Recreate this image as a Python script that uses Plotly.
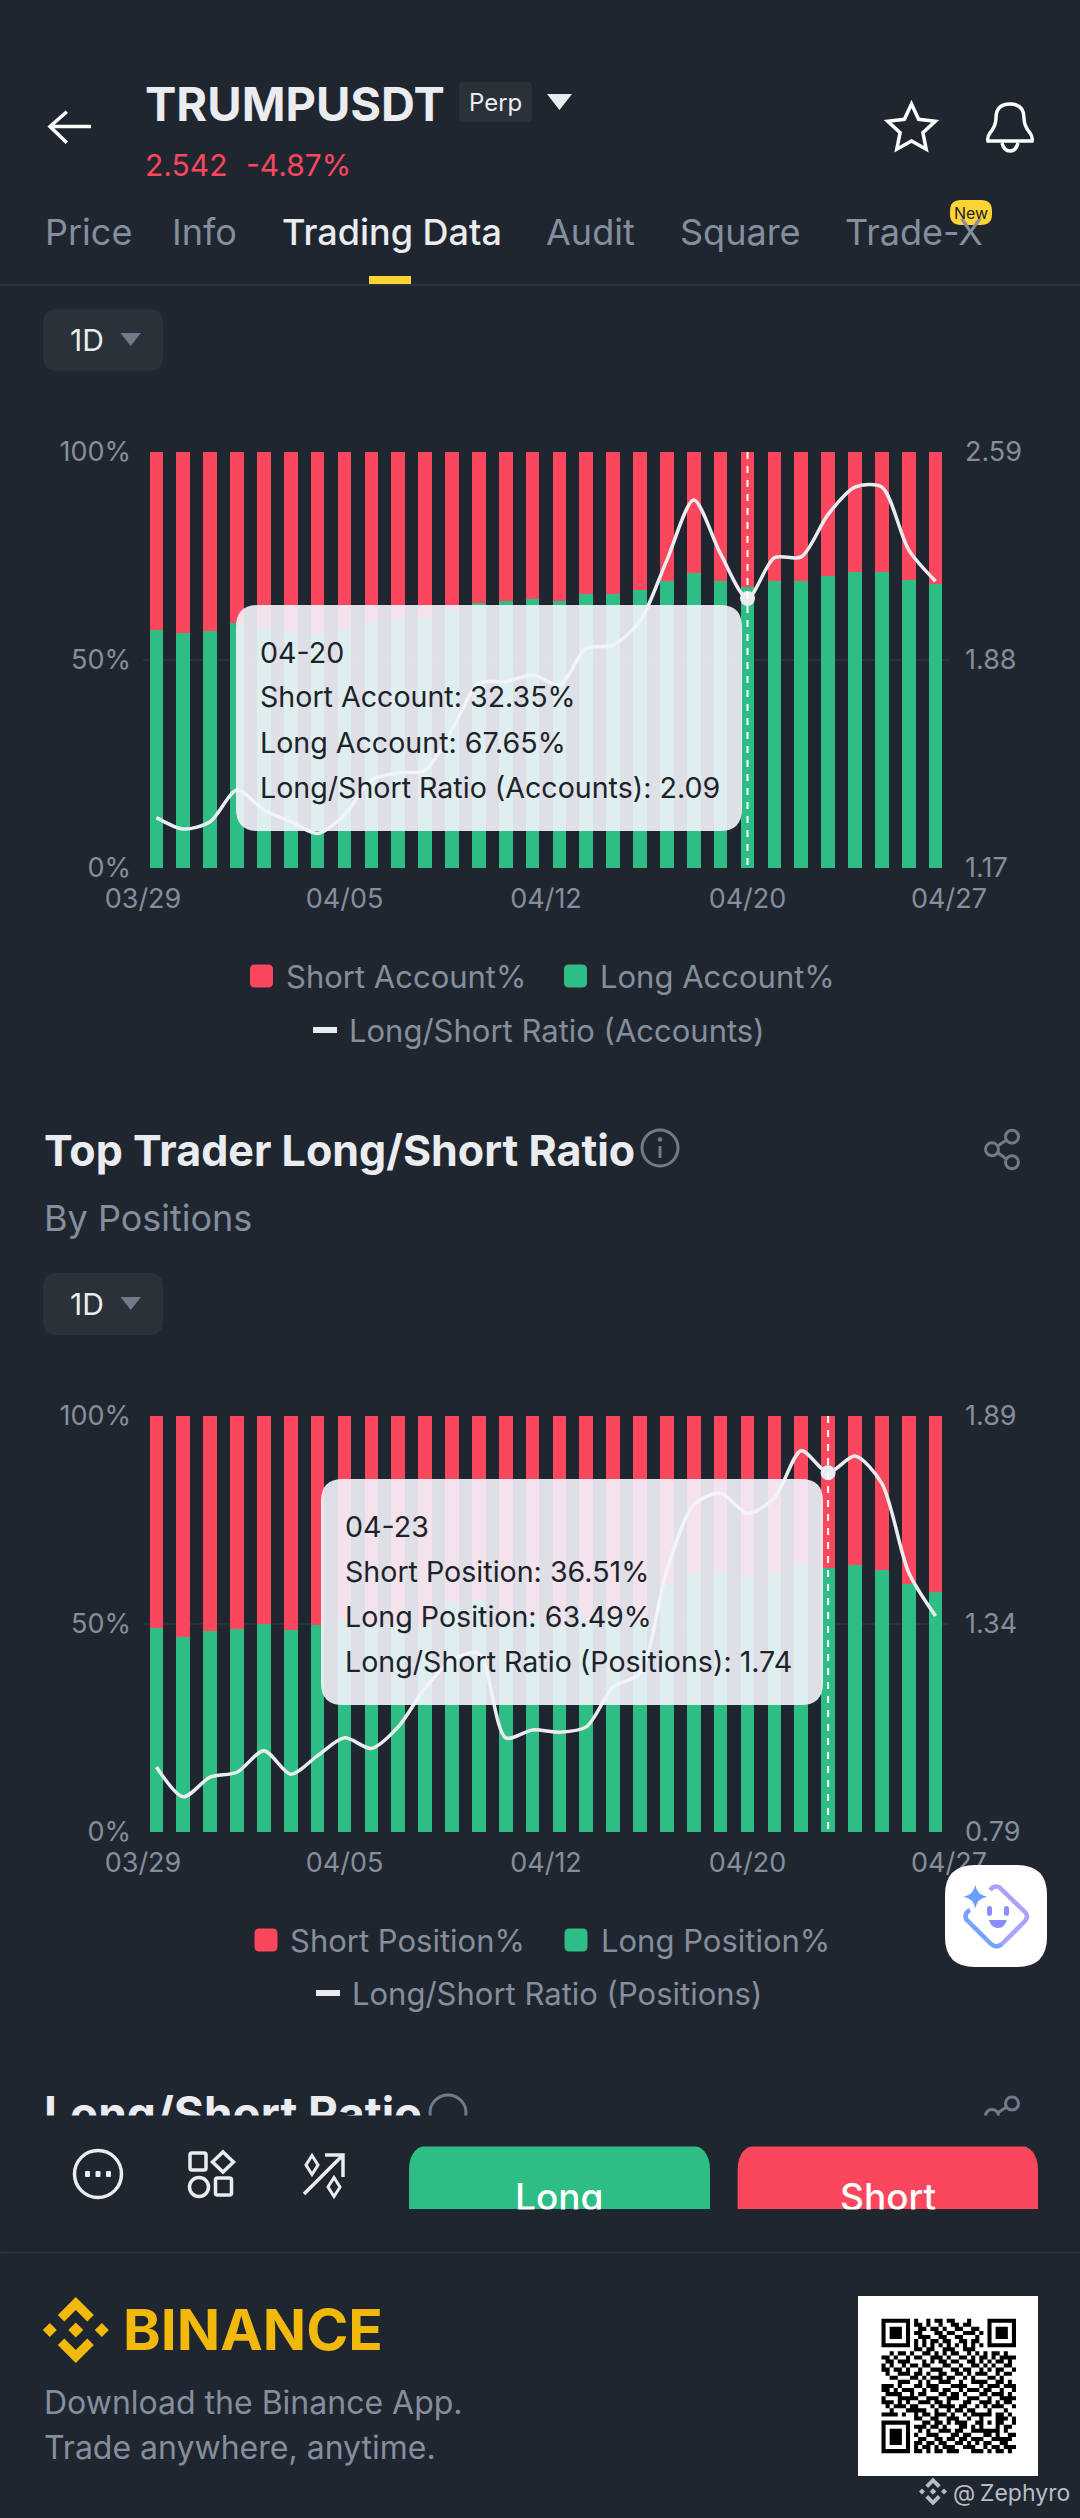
# plot.py - TRUMPUSDT trading data screen, two long/short charts
import math
import re
import plotly.graph_objects as go

W, H = 1080, 2518
BG = "#202630"
RED = "#FB475E"
GREEN = "#2EBD85"
WHITE = "#EAECEF"
GREY = "#848E9C"
DARKGREY = "#707A8A"
PANEL = "#2B3139"
FONT = "Inter"

day_index = list(range(30))
tick_pos = [-0.5, 7, 14.5, 22, 29.5]
tick_labels = ["03/29", "04/05", "04/12", "04/20", "04/27"]
pct_ticks = [0, 50, 100]
pct_labels = ["0%", "50%", "100%"]

# Global accounts chart
acc_long = [57.3, 56.5, 57.0, 59.0, 57.8, 57.0, 56.2, 57.2, 59.1, 59.6,
            60.0, 62.0, 63.6, 64.3, 64.6, 64.2, 65.8, 65.9, 66.8, 68.9,
            70.8, 69.1, 67.65, 69.0, 69.0, 70.3, 71.2, 71.2, 69.3, 68.3]
acc_short = [42.7, 43.5, 43.0, 41.0, 42.2, 43.0, 43.8, 42.8, 40.9, 40.4,
             40.0, 38.0, 36.4, 35.7, 35.4, 35.8, 34.2, 34.1, 33.2, 31.1,
             29.2, 30.9, 32.35, 31.0, 31.0, 29.7, 28.8, 28.8, 30.7, 31.7]
acc_ratio = [1.342, 1.303, 1.328, 1.436, 1.368, 1.328, 1.288, 1.351, 1.470, 1.494,
             1.504, 1.641, 1.801, 1.806, 1.829, 1.795, 1.920, 1.931, 2.013, 2.221,
             2.426, 2.242, 2.09, 2.229, 2.232, 2.377, 2.470, 2.470, 2.256, 2.149]
acc_ratio_ticks = [1.17, 1.88, 2.59]
acc_ratio_labels = ["1.17", "1.88", "2.59"]
acc_hover = 22

# Top trader positions chart
pos_long = [49.1, 46.9, 48.4, 48.7, 50.1, 48.6, 49.8, 51.0, 49.8, 49.8,
            50.0, 55.4, 55.8, 51.4, 51.4, 49.4, 51.8, 51.8, 50.2, 59.6,
            62.3, 62.7, 61.8, 62.5, 64.2, 63.49, 64.1, 63.1, 59.7, 57.7]
pos_short = [50.9, 53.1, 51.6, 51.3, 49.9, 51.4, 50.2, 49.0, 50.2, 50.2,
             50.0, 44.6, 44.2, 48.6, 48.6, 50.6, 48.2, 48.2, 49.8, 40.4,
             37.7, 37.3, 38.2, 37.5, 35.8, 36.51, 35.9, 36.9, 40.3, 42.3]
pos_ratio = [0.962, 0.883, 0.935, 0.948, 1.005, 0.943, 0.992, 1.039, 1.011, 1.068,
             1.171, 1.245, 1.263, 1.039, 1.060, 1.054, 1.068, 1.173, 1.210, 1.483,
             1.655, 1.686, 1.633, 1.673, 1.798, 1.74, 1.784, 1.712, 1.476, 1.361]
pos_ratio_ticks = [0.79, 1.34, 1.89]
pos_ratio_labels = ["0.79", "1.34", "1.89"]
pos_hover = 25

qr_rows = [
    "111111101001011011000100001111111", "100000101101001001101100001000001",
    "101110100110110100110011001011101", "101110101100011011001110101011101",
    "101110100111001100110001001011101", "100000101010110110011011001000001",
    "111111101010101010101010101111111", "000000001101100111001110000000000",
    "001011010011010101100101010110100", "110100101100111010011010110101111",
    "011011100010101101100110101011010", "101001011011000110010011010100110",
    "110110100100111001101100101011001", "010011101101001100110101110010110",
    "001100011010111011001010001101000", "000011100101001110010011110011010",
    "111010001101110001111000101110111", "110101110010110110010111011001001",
    "011110010110001101101000110111010", "100011111001110011100111001001111",
    "111010100111011010001100111010110", "010111011000101111011001010111001",
    "001000111110010010110110001000100", "111101001011011101001011111011010",
    "000000001100110011100100100011101", "111111100011011010111001101011001",
    "100000101110110100011010100010110", "101110100101001110110011111110100",
    "101110101001110001101100011010011", "101110100110011011011011100111110",
    "101110101101101100110101011001100", "100000101011010111001110010110111",
    "111111101101011011100011101011010",
]

shapes = []
annotations = []


def px(x):
    return x / W


def py(y):
    return 1 - y / H


def conv(path):
    # pixel path -> paper path, every number pair is x y
    out = []
    for tok in re.findall(r"[MLCQZ]|-?[\d.]+", path):
        out.append(tok)
    res, is_x = [], True
    for tok in out:
        if tok in "MLCQZ":
            res.append(tok)
            is_x = True
        else:
            res.append(f"{px(float(tok)):.6f}" if is_x else f"{py(float(tok)):.6f}")
            is_x = not is_x
    return " ".join(res)


def draw(path, fill=None, line=None, width=3.5):
    shapes.append(dict(type="path", path=conv(path), xref="paper", yref="paper", layer="above",
                       fillcolor=fill or "rgba(0,0,0,0)",
                       line=dict(color=line or "rgba(0,0,0,0)", width=width if line else 0)))


def rrect(x0, y0, x1, y1, r):
    return (f"M {x0+r} {y0} L {x1-r} {y0} Q {x1} {y0} {x1} {y0+r} L {x1} {y1-r} Q {x1} {y1} {x1-r} {y1} "
            f"L {x0+r} {y1} Q {x0} {y1} {x0} {y1-r} L {x0} {y0+r} Q {x0} {y0} {x0+r} {y0} Z")


def top_rrect(x0, y0, x1, y1, r):
    return f"M {x0} {y1} L {x0} {y0+r} Q {x0} {y0} {x0+r} {y0} L {x1-r} {y0} Q {x1} {y0} {x1} {y0+r} L {x1} {y1} Z"


def circle(cx, cy, r):
    k = 0.5523 * r
    return (f"M {cx-r} {cy} C {cx-r} {cy-k} {cx-k} {cy-r} {cx} {cy-r} C {cx+k} {cy-r} {cx+r} {cy-k} {cx+r} {cy} "
            f"C {cx+r} {cy+k} {cx+k} {cy+r} {cx} {cy+r} C {cx-k} {cy+r} {cx-r} {cy+k} {cx-r} {cy} Z")


def diamond(cx, cy, rx, ry):
    return f"M {cx} {cy-ry} L {cx+rx} {cy} L {cx} {cy+ry} L {cx-rx} {cy} Z"


def text(x, y, s, size, color=GREY, anchor="left", weight=400, family=None):
    annotations.append(dict(x=px(x), y=py(y), xref="paper", yref="paper", text=s, showarrow=False,
                            xanchor=anchor, yanchor="middle", borderpad=0,
                            font=dict(size=size, color=color, weight=weight, family=family or FONT)))


def cover(y0, y1):
    annotations.append(dict(x=0, y=py(y0), xref="paper", yref="paper", text=" ", showarrow=False,
                            xanchor="left", yanchor="top", width=W, height=y1 - y0, borderpad=0,
                            bgcolor=BG, font=dict(size=10)))


def binance_mark(cx, cy, R, color):
    u = R / 33
    for sgn in (-1, 1):
        draw(f"M {cx} {cy+sgn*33*u} L {cx+18*u} {cy+sgn*15*u} L {cx+11.5*u} {cy+sgn*8.5*u} L {cx} {cy+sgn*20*u} "
             f"L {cx-11.5*u} {cy+sgn*8.5*u} L {cx-18*u} {cy+sgn*15*u} Z", fill=color)
        draw(diamond(cx + sgn * 26 * u, cy, 7 * u, 7 * u), fill=color)
    draw(diamond(cx, cy, 7.5 * u, 7.5 * u), fill=color)


def button_1d(y0):
    draw(rrect(43, y0, 163, y0 + 62, 14), fill=PANEL)
    text(87, y0 + 31, "1D", 30, WHITE, "center")
    draw(f"M 120.5 {y0+24} L 141 {y0+24} L 130.7 {y0+37} Z", fill=DARKGREY)


def tooltip(x0, y0, x1, y1, tx, lines):
    draw(rrect(x0, y0, x1, y1, 22), fill="rgba(243,244,252,0.9)")
    for ty, s in lines:
        text(tx, ty, s, 28.6, "#1E2329")


def legend(y1, y2, sw1, t1, s1, sw2, t2, s2, dash, t3, s3):
    draw(rrect(sw1, y1 - 11.5, sw1 + 23, y1 + 11.5, 5), fill=RED)
    text(t1, y1, s1, 31)
    draw(rrect(sw2, y1 - 11.5, sw2 + 23, y1 + 11.5, 5), fill=GREEN)
    text(t2, y1, s2, 31)
    draw(f"M {dash} {y2-3} L {dash+24} {y2-3} L {dash+24} {y2+3} L {dash} {y2+3} Z", fill=WHITE)
    text(t3, y2, s3, 31)


fig = go.Figure()


def add_chart(long_vals, short_vals, ratio, hover, names, xa, ya, yb):
    fig.add_trace(go.Bar(x=day_index, y=long_vals, name=names[1], marker_color=GREEN, marker_line_width=0,
                         width=0.51, xaxis=xa, yaxis=ya))
    fig.add_trace(go.Bar(x=day_index, y=short_vals, name=names[0], marker_color=RED, marker_line_width=0,
                         width=0.51, xaxis=xa, yaxis=ya))
    fig.add_trace(go.Scatter(x=day_index, y=ratio, name=names[2], mode="lines", xaxis=xa, yaxis=yb,
                             line=dict(color=WHITE, width=3.5, shape="spline", smoothing=0.8)))
    fig.add_trace(go.Scatter(x=[day_index[hover]], y=[ratio[hover]], mode="markers", xaxis=xa, yaxis=yb,
                             showlegend=False, marker=dict(color=WHITE, size=15)))


add_chart(acc_long, acc_short, acc_ratio, acc_hover,
          ["Short Account%", "Long Account%", "Long/Short Ratio (Accounts)"], "x", "y", "y2")
add_chart(pos_long, pos_short, pos_ratio, pos_hover,
          ["Short Position%", "Long Position%", "Long/Short Ratio (Positions)"], "x2", "y3", "y4")

# hover guide lines
for xref, hover, y0, y1 in (("x", acc_hover, 452, 868), ("x2", pos_hover, 1416, 1832)):
    shapes.append(dict(type="line", xref=xref, yref="paper", x0=day_index[hover], x1=day_index[hover],
                       y0=py(y0), y1=py(y1), layer="above",
                       line=dict(color="#FFFFFF", width=2, dash="7px,7px")))

# header
draw("M 91 126.5 L 50 126.5 M 66.8 111.7 L 50 126.5 L 66.8 142.7", line="#FFFFFF")
text(144, 103, "TRUMPUSDT", 47, WHITE, weight=700)
draw(rrect(459, 82, 532, 122, 5), fill=PANEL)
text(495.5, 102, "Perp", 24, WHITE, "center")
draw("M 547 94 L 572 94 L 559.5 110 Z", fill=WHITE)
text(144, 165, "2.542", 30, RED)
text(244.5, 165, "-4.87%", 30, RED)
star = []
for i in range(10):
    r = 25 if i % 2 == 0 else 12
    a = -math.pi / 2 + i * math.pi / 5
    star.append(f"{'M' if i == 0 else 'L'} {911.5 + r * math.cos(a):.1f} {129 + r * math.sin(a):.1f}")
draw(" ".join(star) + " Z", line="#FFFFFF")
draw("M 988 141 L 1032 141 Q 1033 137 1030 133 Q 1024 126 1024 118 Q 1024 104 1010 104 Q 996 104 996 118 "
     "Q 996 126 990 133 Q 987 137 988 141 Z M 1002 143 Q 1004 151 1010 151 Q 1016 151 1018 143", line="#FFFFFF")

# tabs
text(44, 232, "Price", 36)
text(171, 232, "Info", 36)
text(281, 232, "Trading Data", 36, WHITE, weight=500)
text(545, 232, "Audit", 36)
text(679, 232, "Square", 36)
text(844, 232, "Trade-X", 36)
draw(rrect(950, 200, 992, 225, 11), fill="#FCD535")
text(971, 213, "New", 16, "#1E2329", "center")
draw("M 369 276 L 411 276 L 411 285 L 369 285 Z", fill="#FCD535")
draw("M 0 285 L 1080 285", line=PANEL, width=2)

# first chart furniture
button_1d(309)
legend(976, 1030, 250, 284.5, "Short Account%", 564, 598.5, "Long Account%", 313, 348, "Long/Short Ratio (Accounts)")
tooltip(236, 605, 742, 831, 259, [(652, "04-20"), (697, "Short Account: 32.35%"),
                                  (742, "Long Account: 67.65%"), (787, "Long/Short Ratio (Accounts): 2.09")])

# second section
text(43, 1150, "Top Trader Long/Short Ratio", 43, WHITE, weight=700)
draw(circle(660, 1148, 18), line=DARKGREY, width=3)
draw("M 660 1146 L 660 1158", line=DARKGREY, width=3)
draw(circle(660, 1139.5, 1.5), fill=DARKGREY, line=DARKGREY, width=1.5)
for c in ((1012, 1136.7), (992, 1149.3), (1012, 1162.3)):
    draw(circle(c[0], c[1], 6.5), line=DARKGREY, width=3)
draw("M 1006.5 1140 L 997.5 1146 M 997.5 1152.5 L 1006.5 1159", line=DARKGREY, width=3)
text(43, 1218, "By Positions", 36)
button_1d(1273)
legend(1940, 1993, 254.5, 289, "Short Position%", 564.5, 599.5, "Long Position%", 316, 350.5,
       "Long/Short Ratio (Positions)")
tooltip(321, 1479, 823, 1705, 344, [(1526, "04-23"), (1571, "Short Position: 36.51%"),
                                    (1616, "Long Position: 63.49%"), (1661, "Long/Short Ratio (Positions): 1.74")])

# floating assistant button
draw(rrect(945, 1865, 1047, 1967, 30), fill="#FFFFFF")
draw("M 975.3 1885 Q 977 1895 987 1896.7 Q 977 1898.5 975.3 1908.5 Q 973.5 1898.5 963.7 1896.7 Q 973.5 1895 975.3 1885 Z",
     fill="#6C9DFF")
draw("M 990 1890 Q 994 1885 999 1887 L 1025 1912 Q 1029 1916 1025 1921 L 1002 1944", line="#A9A2FF", width=4.5)
draw("M 970 1910 Q 964 1913 966 1919 L 990 1943 Q 996 1949 1002 1944", line="#78A2FF", width=4.5)
draw(rrect(987, 1906, 992, 1916, 2.5), fill="#8A8CFF")
draw(rrect(1004, 1906, 1009, 1916, 2.5), fill="#8A8CFF")
draw("M 989 1920 L 1006.7 1920 Q 1005 1928 998 1928 Q 991 1928 989 1920 Z", fill="#8A8CFF")

# next section header, cut by the action bar
text(43, 2113, "Long/Short Ratio", 46, WHITE, weight=700)
draw(circle(448, 2113, 18), line=DARKGREY, width=3)
for c in ((1012, 2103.5), (992, 2116)):
    draw(circle(c[0], c[1], 6.5), line=DARKGREY, width=3)
draw("M 1006.5 2107 L 997.5 2113", line=DARKGREY, width=3)
cover(2115, 2145)

# action bar
draw(circle(98, 2174, 23.5), line=WHITE)
for dx in (87.5, 98, 108.5):
    draw(rrect(dx - 2.5, 2171, dx + 2.5, 2177, 1), fill=WHITE)
draw(rrect(190, 2153, 206, 2170, 2), line=WHITE)
draw(diamond(223, 2162, 10.5, 10), line=WHITE)
draw(circle(199, 2187, 9.5), line=WHITE)
draw(rrect(215.5, 2178, 231.5, 2195, 2), line=WHITE)
draw("M 304 2194 L 343 2155 M 325 2155 L 343 2155 L 343 2177", line=WHITE)
draw(diamond(312, 2165, 6, 9.5), line=WHITE, width=3)
draw(diamond(334, 2187, 6, 9.5), line=WHITE, width=3)
draw(top_rrect(409, 2144, 710, 2209, 26), fill=GREEN)
draw(top_rrect(737.6, 2144, 1038, 2209, 26), fill=RED)
text(559, 2196, "Long", 37, "#FFFFFF", "center", 500)
text(888, 2196, "Short", 37, "#FFFFFF", "center", 500)
cover(2209, 2250)
draw("M 0 2252 L 1080 2252", line=PANEL, width=3)

# footer
binance_mark(75.8, 2330, 33, "#F0B90B")
text(122, 2329, "BINANCE", 57, "#F0B90B", weight=700)
text(43, 2402, "Download the Binance App.", 32)
text(43, 2447, "Trade anywhere, anytime.", 32)
draw("M 858 2296 L 1038 2296 L 1038 2476 L 858 2476 Z", fill="#FFFFFF")
m = 134.5 / len(qr_rows)
qr_path = []
for r, row in enumerate(qr_rows):
    c = 0
    while c < len(row):
        if row[c] == "1":
            e = c
            while e < len(row) and row[e] == "1":
                e += 1
            x0, x1, y0, y1 = 881.5 + c * m, 881.5 + e * m, 2318.7 + r * m, 2318.7 + (r + 1) * m
            qr_path.append(f"M {x0:.2f} {y0:.2f} L {x1:.2f} {y0:.2f} L {x1:.2f} {y1:.2f} L {x0:.2f} {y1:.2f} Z")
            c = e
        else:
            c += 1
draw(" ".join(qr_path), fill="#000000")
binance_mark(933, 2491.5, 14, "#B7BDC6")
text(952, 2493, "@", 23, "#B7BDC6")
text(979, 2493, "Zephyro", 23, "#B7BDC6")

axis_font = dict(family=FONT, size=27, color=GREY)
x_common = dict(range=[-0.5, 29.5], domain=[px(143), px(949)], tickmode="array", tickvals=tick_pos,
                ticktext=tick_labels, tickfont=axis_font, showgrid=False, zeroline=False, showline=False,
                ticks="", ticklabelstandoff=12)
y_left = dict(range=[0, 100], tickmode="array", tickvals=pct_ticks, ticktext=pct_labels, tickfont=axis_font,
              gridcolor=PANEL, gridwidth=2, zeroline=False, showline=False, ticks="", ticklabelstandoff=11)
y_right = dict(side="right", tickmode="array", tickfont=axis_font, showgrid=False, zeroline=False,
               showline=False, ticks="", ticklabelstandoff=15)

fig.update_layout(
    width=W, height=H, autosize=False,
    margin=dict(l=0, r=0, t=0, b=0, autoexpand=False),
    paper_bgcolor=BG, plot_bgcolor=BG,
    font=dict(family=FONT, color=GREY),
    barmode="stack", bargap=0.49, showlegend=False,
    xaxis=dict(anchor="y", **x_common),
    yaxis=dict(anchor="x", domain=[py(868), py(452)], **y_left),
    yaxis2=dict(anchor="x", overlaying="y", range=[acc_ratio_ticks[0], acc_ratio_ticks[-1]],
                tickvals=acc_ratio_ticks, ticktext=acc_ratio_labels, **y_right),
    xaxis2=dict(anchor="y3", **x_common),
    yaxis3=dict(anchor="x2", domain=[py(1832), py(1416)], **y_left),
    yaxis4=dict(anchor="x2", overlaying="y3", range=[pos_ratio_ticks[0], pos_ratio_ticks[-1]],
                tickvals=pos_ratio_ticks, ticktext=pos_ratio_labels, **y_right),
    shapes=shapes,
    annotations=annotations,
)

fig.write_html("out.html", config={"displayModeBar": False},
               post_script="document.body.style.margin='0';document.body.style.background='" + BG + "';")
